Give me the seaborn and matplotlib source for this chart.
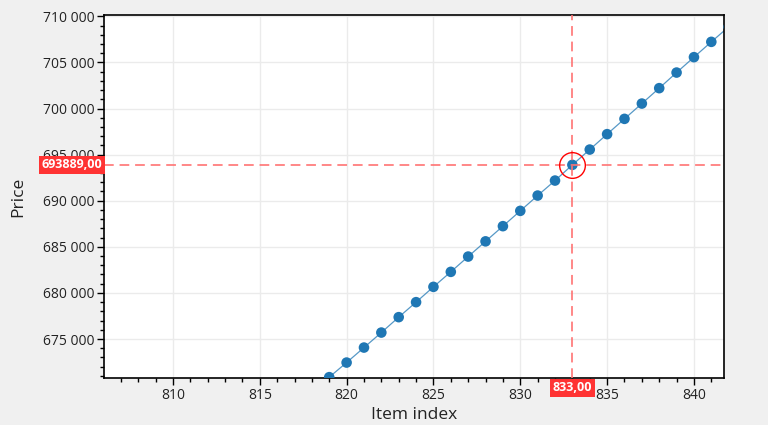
import numpy as np
import pandas as pd
import matplotlib
matplotlib.use("Agg")
import matplotlib.pyplot as plt
from matplotlib.ticker import MultipleLocator, FuncFormatter
import seaborn as sns

# ---- data ----
item_index = [818, 819, 820, 821, 822, 823, 824, 825, 826, 827, 828, 829, 830,
              831, 832, 833, 834, 835, 836, 837, 838, 839, 840, 841, 842]
price = [669270, 670863, 672446, 674073, 675700, 677371, 678997, 680657, 682284,
         683943, 685592, 687240, 688900, 690559, 692186, 693889, 695548, 697219,
         698878, 700538, 702208, 703900, 705570, 707230, 708856]
cross_x = 833
cross_y = 693889.0
x_label = "Item index"
y_label = "Price"

df = pd.DataFrame({"idx": item_index, "price": price})

sns.set_theme(style="white")
plt.rcParams["font.family"] = ["Open Sans", "DejaVu Sans"]

fig = plt.figure(figsize=(7.68, 4.25), dpi=100, facecolor="#f0f0f0")
ax = fig.add_axes([0.1354, 0.1099, 0.8073, 0.8555])
ax.set_facecolor("white")

blue = "#1f77b4"
sns.lineplot(data=df, x="idx", y="price", ax=ax, color=blue, linewidth=0.9,
             alpha=0.75, zorder=2)
sns.scatterplot(data=df, x="idx", y="price", ax=ax, color=blue, s=58,
                edgecolor="none", zorder=3)

ax.set_xlim(806.03, 841.73)
ax.set_ylim(670740, 710175)

ax.xaxis.set_major_locator(MultipleLocator(5))
ax.xaxis.set_minor_locator(MultipleLocator(1))
ax.yaxis.set_major_locator(MultipleLocator(5000))
ax.yaxis.set_minor_locator(MultipleLocator(1000))
ax.yaxis.set_major_formatter(FuncFormatter(lambda v, p: f"{int(round(v)):,}".replace(",", " ")))

ax.grid(True, which="major", color="#ebebeb", linewidth=1)
ax.set_axisbelow(True)
for s in ax.spines.values():
    s.set_color("black")
    s.set_linewidth(1.2)

ax.tick_params(axis="both", which="major", direction="out", length=5, width=1,
               color="black", labelsize=10, labelcolor="#222222", pad=2,
               bottom=True, left=True, top=False, right=False)
ax.tick_params(axis="both", which="minor", direction="out", length=3, width=1,
               color="black", bottom=True, left=True, top=False, right=False)

ax.set_xlabel(x_label, fontsize=12.5, color="#222222", labelpad=3)
ax.set_ylabel(y_label, fontsize=12.5, color="#222222", labelpad=12)

# crosshair
cross_col = (1.0, 0.45, 0.45)
ax.axvline(cross_x, color=cross_col, linestyle=(0, (5, 3)), linewidth=1.4, alpha=0.85, zorder=4)
ax.axhline(cross_y, color=cross_col, linestyle=(0, (5, 3)), linewidth=1.4, alpha=0.85, zorder=4)
ax.plot([cross_x], [cross_y], marker="o", markersize=18.5, markerfacecolor="none",
        markeredgecolor="red", markeredgewidth=1.0, zorder=5)

box = dict(boxstyle="square,pad=0.2", facecolor="#ff3333", edgecolor="none")
ax.annotate(f"{cross_y:.2f}".replace(".", ","), xy=(0, cross_y),
            xycoords=("axes fraction", "data"), xytext=(-1, 0), textcoords="offset points",
            ha="right", va="center", fontsize=9, fontweight="bold", color="white",
            bbox=box, annotation_clip=False, zorder=10)
ax.annotate(f"{cross_x:.2f}".replace(".", ","), xy=(cross_x, 0),
            xycoords=("data", "axes fraction"), xytext=(0, -2), textcoords="offset points",
            ha="center", va="top", fontsize=9, fontweight="bold", color="white",
            bbox=box, annotation_clip=False, zorder=10)

fig.savefig("out.png", dpi=100, facecolor=fig.get_facecolor())
